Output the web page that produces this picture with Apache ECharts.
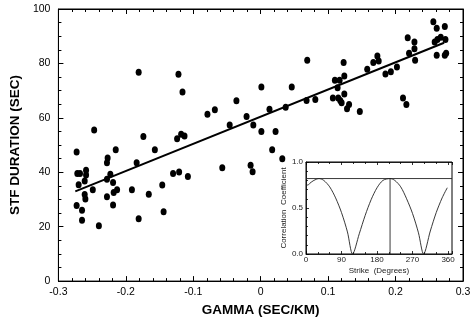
<!DOCTYPE html>
<html>
<head>
<meta charset="utf-8">
<script src="https://cdn.jsdelivr.net/npm/echarts@6/dist/echarts.min.js"></script>
<style>
html,body{margin:0;padding:0;background:#fff;}
#chart{width:474px;height:322px;}
</style>
</head>
<body>
<div id="chart"></div>
<script>
// Main scatter: GAMMA (SEC/KM) vs STF DURATION (SEC)
const gamma = [
  -0.181,-0.247,-0.174,-0.273,-0.215,-0.157,-0.227,-0.228,-0.184,-0.272,
  -0.268,-0.259,-0.259,-0.261,-0.270,-0.223,-0.228,-0.219,-0.249,-0.261,
  -0.260,-0.273,-0.228,-0.218,-0.213,-0.219,-0.191,-0.166,-0.265,-0.265,
  -0.240,-0.181,-0.146,-0.144,-0.130,-0.121,-0.108,-0.057,-0.015,-0.012,
  0.017,0.032,-0.122,-0.116,-0.124,-0.118,-0.113,-0.079,-0.068,-0.046,
  -0.036,-0.021,-0.011,0.001,0.001,0.013,0.022,0.037,0.046,0.069,
  0.068,0.081,0.107,0.115,0.118,0.120,0.124,0.131,0.128,0.147,
  0.110,0.117,0.114,0.124,0.123,0.158,0.167,0.173,0.175,0.185,
  0.193,0.202,0.211,0.216,0.218,0.220,0.228,0.228,0.229,0.256,
  0.261,0.258,0.262,0.267,0.273,0.274,0.261,0.273,0.275
];
const stfDuration = [
  76.8,55.5,53.1,47.4,48.3,48.3,45.2,43.5,43.5,39.5,
  39.5,40.7,39.0,36.8,35.4,39.3,37.4,36.2,33.6,31.8,
  30.2,27.8,31.0,32.6,33.6,28.0,33.6,31.9,26.0,22.4,
  20.3,22.9,35.3,25.5,39.5,40.1,38.4,41.7,42.6,40.2,
  48.3,45.0,76.0,69.5,52.3,54.0,53.3,61.3,63.0,57.4,
  66.3,60.5,57.4,71.3,55.0,63.2,55.0,63.9,71.3,81.2,
  66.4,66.7,67.3,67.3,66.4,65.5,68.8,64.9,63.3,62.3,
  73.8,73.8,71.1,75.4,80.3,77.9,80.3,82.7,80.9,76.1,
  76.9,78.7,67.3,64.9,89.4,83.7,87.9,85.4,81.2,95.3,
  92.9,87.9,88.8,89.6,93.6,88.8,83.0,83.0,83.7
];
// Fitted line end points
const fitGamma = [-0.275, 0.272];
const fitDuration = [33.0, 87.6];

// Inset: correlation coefficient vs strike
const strikeDeg = [0,5,10,20,33,45,60,75,90,105,118,135,150,165,180,195,213,225,240,255,270,285,298,315,330,345,358];
const corrCoef  = [0.75,0.75,0.77,0.80,0.82,0.80,0.73,0.61,0.45,0.24,0.0,0.22,0.42,0.59,0.72,0.80,0.82,0.80,0.73,0.60,0.44,0.23,0.0,0.25,0.45,0.61,0.72];
const bestCorr = 0.82;
const bestStrike = 213;
const strikeMax = 370;

const scatterData = gamma.map((g, i) => [g, stfDuration[i]]);
const fitData = fitGamma.map((g, i) => [g, fitDuration[i]]);
const corrData = strikeDeg.map((s, i) => [s, corrCoef[i]]);

const mainFont = 'Liberation Sans, Arial, sans-serif';
const insetFont = 'Liberation Sans Narrow, Liberation Sans, Arial, sans-serif';

const chart = echarts.init(document.getElementById('chart'), null, {renderer: 'canvas'});

const tickMain = {show: true, inside: true, length: 5, lineStyle: {color: '#000', width: 1}};
const minorMain = {show: true, length: 3, lineStyle: {color: '#000', width: 1}};
const tickInset = {show: true, inside: true, length: 3, lineStyle: {color: '#000', width: 0.8}};
const minorInset = {show: true, length: 2, lineStyle: {color: '#000', width: 0.8}};

chart.setOption({
  animation: false,
  backgroundColor: '#fff',
  grid: [
    {left: 42, top: 9, right: 11, bottom: 37, show: true, borderColor: '#000', borderWidth: 1, backgroundColor: 'transparent'},
    {left: 306, top: 162, width: 146, height: 92, show: true, borderColor: '#000', borderWidth: 1, backgroundColor: '#fff', z: 5}
  ],
  xAxis: [
    {
      gridIndex: 0, type: 'value', min: -0.3, max: 0.3, interval: 0.1, position: 'bottom',
      name: 'GAMMA (SEC/KM)', nameLocation: 'middle', nameGap: 19,
      nameTextStyle: {fontFamily: mainFont, fontWeight: 'bold', fontSize: 13.5, color: '#000'},
      axisLine: {show: true, onZero: false, lineStyle: {color: '#000', width: 1}},
      axisTick: tickMain, minorTick: Object.assign({splitNumber: 5}, minorMain),
      axisLabel: {fontFamily: mainFont, fontSize: 10.5, color: '#000', margin: 6},
      splitLine: {show: false}
    },
    {
      gridIndex: 0, type: 'value', min: -0.3, max: 0.3, interval: 0.1, position: 'top',
      axisLine: {show: true, onZero: false, lineStyle: {color: '#000', width: 1}},
      axisTick: tickMain, minorTick: Object.assign({splitNumber: 5}, minorMain),
      axisLabel: {show: false}, splitLine: {show: false}
    },
    {
      gridIndex: 1, type: 'value', min: 0, max: strikeMax, interval: 90, position: 'bottom',
      name: 'Strike  (Degrees)', nameLocation: 'middle', nameGap: 13,
      nameTextStyle: {fontFamily: insetFont, fontSize: 8, color: '#222'},
      axisLine: {show: true, onZero: false, lineStyle: {color: '#000', width: 0.8}},
      axisTick: tickInset, minorTick: Object.assign({splitNumber: 3}, minorInset),
      axisLabel: {fontFamily: insetFont, fontSize: 8, color: '#222', margin: 2, showMaxLabel: false},
      splitLine: {show: false}, z: 6
    },
    {
      gridIndex: 1, type: 'value', min: 0, max: strikeMax, interval: 90, position: 'top',
      axisLine: {show: true, onZero: false, lineStyle: {color: '#000', width: 0.8}},
      axisTick: tickInset, minorTick: Object.assign({splitNumber: 3}, minorInset),
      axisLabel: {show: false}, splitLine: {show: false}, z: 6
    }
  ],
  yAxis: [
    {
      gridIndex: 0, type: 'value', min: 0, max: 100, interval: 20, position: 'left',
      name: 'STF DURATION (SEC)', nameLocation: 'middle', nameGap: 22, nameRotate: 90,
      nameTextStyle: {fontFamily: mainFont, fontWeight: 'bold', fontSize: 13.5, color: '#000'},
      axisLine: {show: true, onZero: false, lineStyle: {color: '#000', width: 1}},
      axisTick: tickMain, minorTick: Object.assign({splitNumber: 4}, minorMain),
      axisLabel: {fontFamily: mainFont, fontSize: 10.5, color: '#000', margin: 8},
      splitLine: {show: false}
    },
    {
      gridIndex: 0, type: 'value', min: 0, max: 100, interval: 20, position: 'right',
      axisLine: {show: true, onZero: false, lineStyle: {color: '#000', width: 1}},
      axisTick: tickMain, minorTick: Object.assign({splitNumber: 4}, minorMain),
      axisLabel: {show: false}, splitLine: {show: false}
    },
    {
      gridIndex: 1, type: 'value', min: 0, max: 1, interval: 0.5, position: 'left',
      name: 'Correlation  Coefficient', nameLocation: 'middle', nameGap: 16, nameRotate: 90,
      nameTextStyle: {fontFamily: insetFont, fontSize: 8, color: '#222'},
      axisLine: {show: true, onZero: false, lineStyle: {color: '#000', width: 0.8}},
      axisTick: tickInset, minorTick: Object.assign({splitNumber: 5}, minorInset),
      axisLabel: {fontFamily: insetFont, fontSize: 8, color: '#222', margin: 3, formatter: v => v.toFixed(1)},
      splitLine: {show: false}, z: 6
    }
  ],
  series: [
    {
      type: 'scatter', xAxisIndex: 0, yAxisIndex: 0, data: scatterData,
      symbol: 'circle', symbolSize: [6, 7],
      itemStyle: {color: '#000', opacity: 1}, z: 3
    },
    {
      type: 'line', xAxisIndex: 0, yAxisIndex: 0, data: fitData,
      symbol: 'none', lineStyle: {color: '#000', width: 2}, z: 4
    },
    {
      type: 'line', xAxisIndex: 2, yAxisIndex: 2, data: corrData,
      symbol: 'none', smooth: 0.3, lineStyle: {color: '#222', width: 0.9}, z: 7
    },
    {
      type: 'line', xAxisIndex: 2, yAxisIndex: 2, data: [[0, bestCorr], [strikeMax, bestCorr]],
      symbol: 'none', lineStyle: {color: '#222', width: 0.9}, z: 7
    },
    {
      type: 'line', xAxisIndex: 2, yAxisIndex: 2, data: [[bestStrike, 0], [bestStrike, bestCorr]],
      symbol: 'none', lineStyle: {color: '#222', width: 0.9}, z: 7
    }
  ]
});
</script>
</body>
</html>
